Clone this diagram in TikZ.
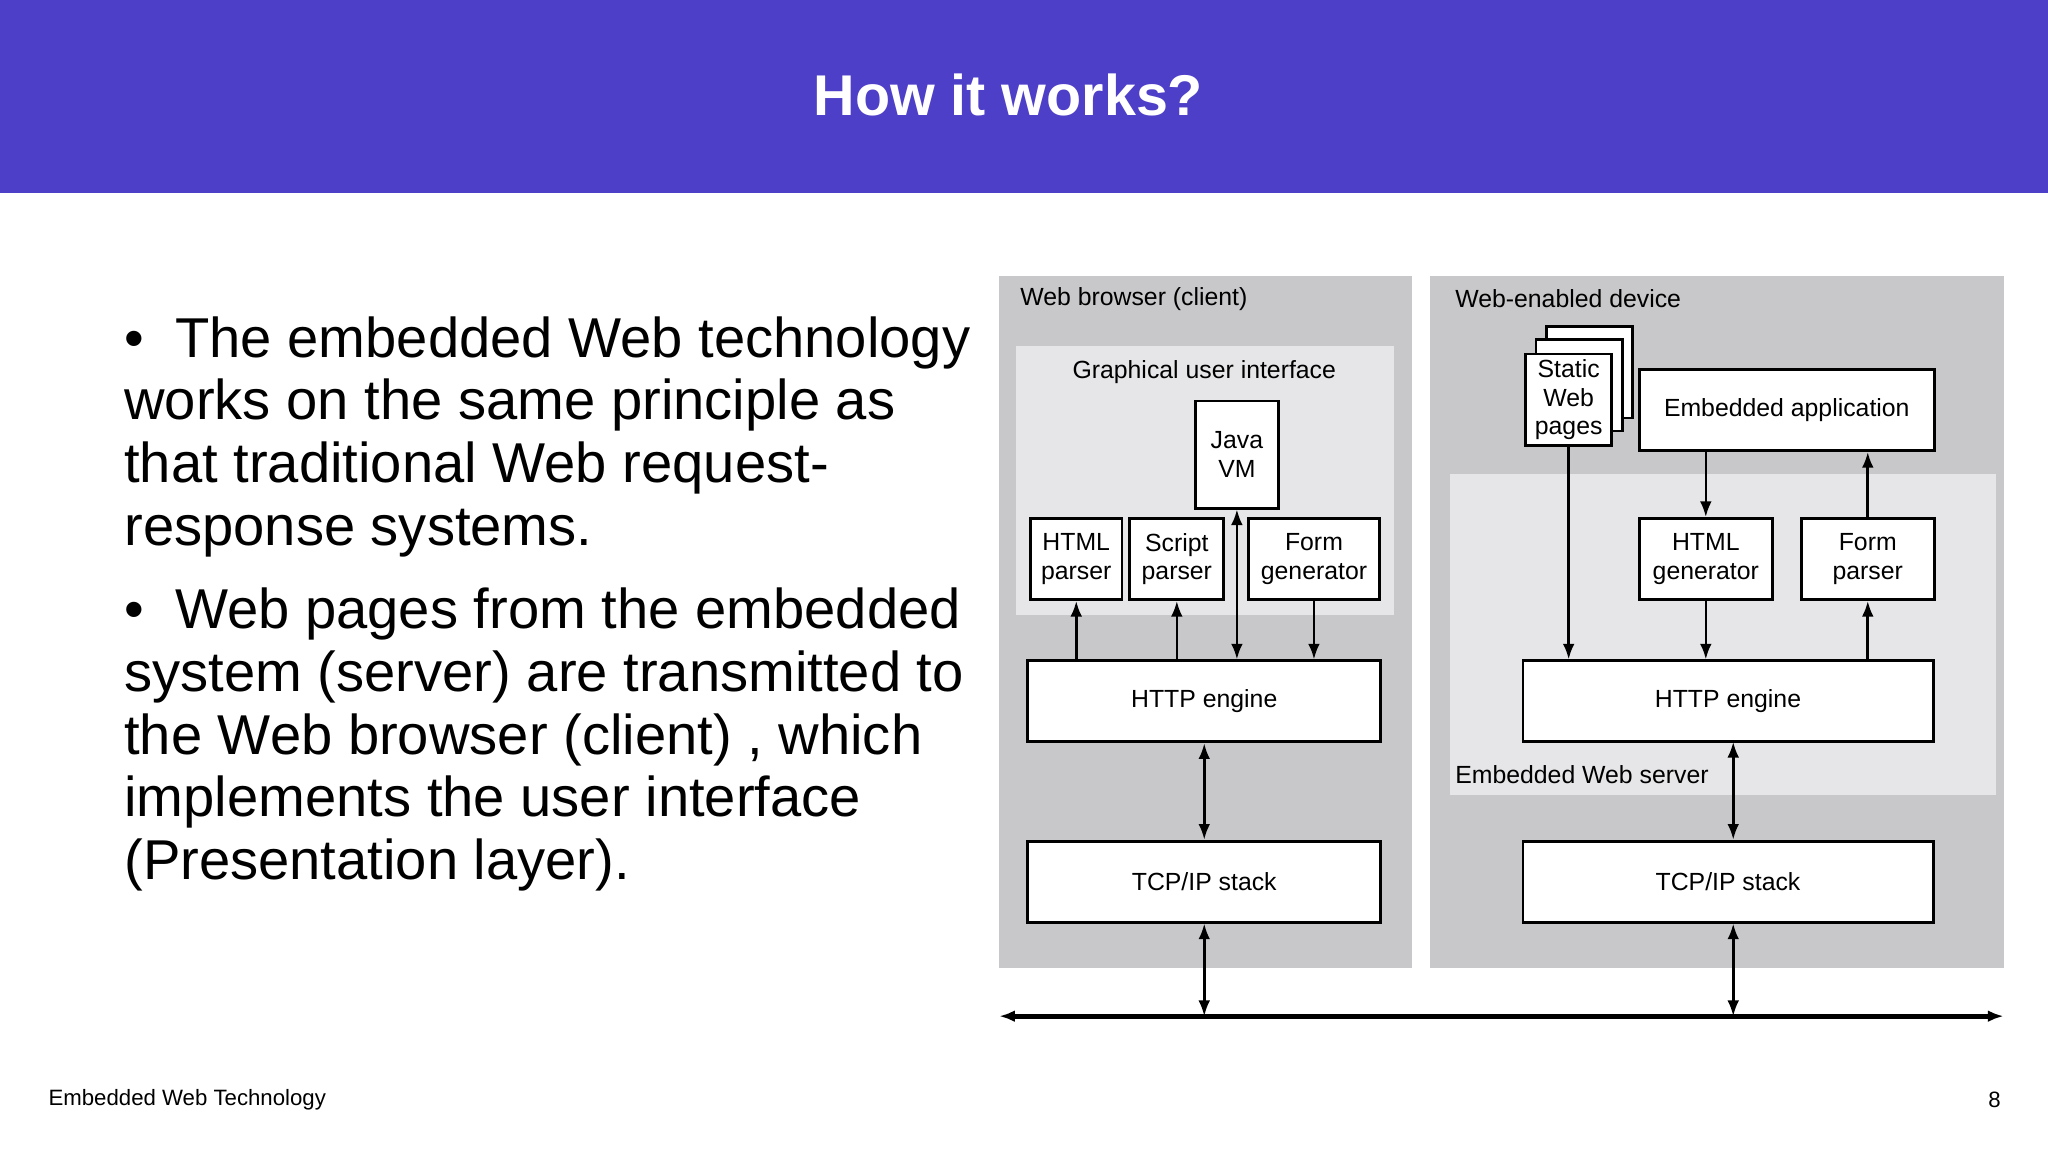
\documentclass[tikz,border=0pt]{standalone}
\usepackage{fontspec}
\setmainfont{Liberation Sans}
\usetikzlibrary{arrows.meta}
\definecolor{hdr}{HTML}{4D3FC7}
\definecolor{panel}{HTML}{C8C8CA}
\definecolor{inner}{HTML}{E6E6E8}
\tikzset{
 box/.style={draw=black,line width=2.2pt,fill=white,align=center,font=\fontsize{19}{22}\selectfont,inner sep=0pt},
 lab/.style={font=\fontsize{19}{22}\selectfont,anchor=west,inner sep=0pt},
 arr/.style={-{Latex[length=12pt,width=9pt]},line width=2pt},
 darr/.style={{Latex[length=12pt,width=9pt]}-{Latex[length=12pt,width=9pt]},line width=2pt},
 bul/.style={font=\fontsize{43}{48}\selectfont,anchor=north west,align=left,inner sep=0pt}
}
\begin{document}
\begin{tikzpicture}[x=1pt,y=-1pt]
\useasboundingbox (0,0) rectangle (1568,882);
\fill[white] (0,0) rectangle (1568,882);
\fill[hdr] (0,0) rectangle (1568,148);
\node[text=white,font=\bfseries\fontsize{44}{48}\selectfont] (title) at (772,73) {How it works?};
\node[bul] (b1) at (95,242) {\textbullet\ \ The embedded Web technology\\works on the same principle as\\that traditional Web request-\\response systems.};
\node[bul] (b2) at (95,450) {\textbullet\ \ Web pages from the embedded\\system (server) are transmitted to\\the Web browser (client) , which\\implements the user interface\\(Presentation layer).};
\node[font=\fontsize{17}{20}\selectfont,anchor=west,inner sep=0pt] (foot) at (37,842) {Embedded Web Technology};
\node[font=\fontsize{17}{20}\selectfont,anchor=east,inner sep=0pt] (pg) at (1532,842) {8};
% panels
\fill[panel] (765,211) rectangle (1081,741);
\fill[panel] (1095,211) rectangle (1534,741);
\fill[inner] (778,265) rectangle (1067,471);
\fill[inner] (1110,363) rectangle (1528,609);
\node[lab] (wb) at (781,229) {Web browser (client)};
\node[lab] (wd) at (1114,229) {Web-enabled device};
\node[font=\fontsize{19}{22}\selectfont] (gui) at (922,285) {Graphical user interface};
\node[lab] (ews) at (1114,593) {Embedded Web server};
% client boxes
\node[box,minimum width=64,minimum height=82] (java) at (947,348) {Java\\VM};
\node[box,minimum width=70,minimum height=62] (html) at (824,428) {HTML\\parser};
\node[box,minimum width=72,minimum height=62] (script) at (901,428) {Script\\parser};
\node[box,minimum width=100,minimum height=62] (form) at (1006,428) {Form\\generator};
\node[box,minimum width=270,minimum height=62] (http1) at (922,537) {HTTP engine};
\node[box,minimum width=270,minimum height=62] (tcp1) at (922,675) {TCP/IP stack};
% server boxes
\node[box,minimum width=66,minimum height=70] (sw3) at (1217,285) {};
\node[box,minimum width=66,minimum height=70] (sw2) at (1209,295) {};
\node[box,minimum width=66,minimum height=70] (sw) at (1201,306) {Static\\Web\\pages};
\node[box,minimum width=226,minimum height=62] (app) at (1368,314) {Embedded application};
\node[box,minimum width=102,minimum height=62] (hgen) at (1306,428) {HTML\\generator};
\node[box,minimum width=102,minimum height=62] (fpar) at (1430,428) {Form\\parser};
\node[box,minimum width=314,minimum height=62] (http2) at (1323,537) {HTTP engine};
\node[box,minimum width=314,minimum height=62] (tcp2) at (1323,675) {TCP/IP stack};
% arrows client
\draw[arr] (http1.north -| html) -- (html.south);
\draw[arr] (http1.north -| script) -- (script.south);
\draw[arr] (form.south) -- (http1.north -| form);
\coordinate (ja) at (947,390);
\draw[darr] (ja) -- (http1.north -| ja);
\draw[darr] (http1) -- (tcp1);
% arrows server
\draw[arr] (sw.south) -- (http2.north -| sw);
\draw[arr] (app.south -| hgen) -- (hgen.north);
\draw[arr] (hgen.south) -- (http2.north -| hgen);
\draw[arr] (http2.north -| fpar) -- (fpar.south);
\draw[arr] (fpar.north) -- (app.south -| fpar);
\coordinate (h2) at (1327,568);
\draw[darr] (h2) -- (tcp2.north -| h2);
% network
\coordinate (nl) at (765,778);
\coordinate (nr) at (1534,778);
\draw[darr,line width=4pt] (nl) -- (nr);
\draw[darr] (tcp1.south) -- (tcp1.south |- nl);
\draw[darr] (tcp2.south -| h2) -- (h2 |- nl);
\end{tikzpicture}
\end{document}
